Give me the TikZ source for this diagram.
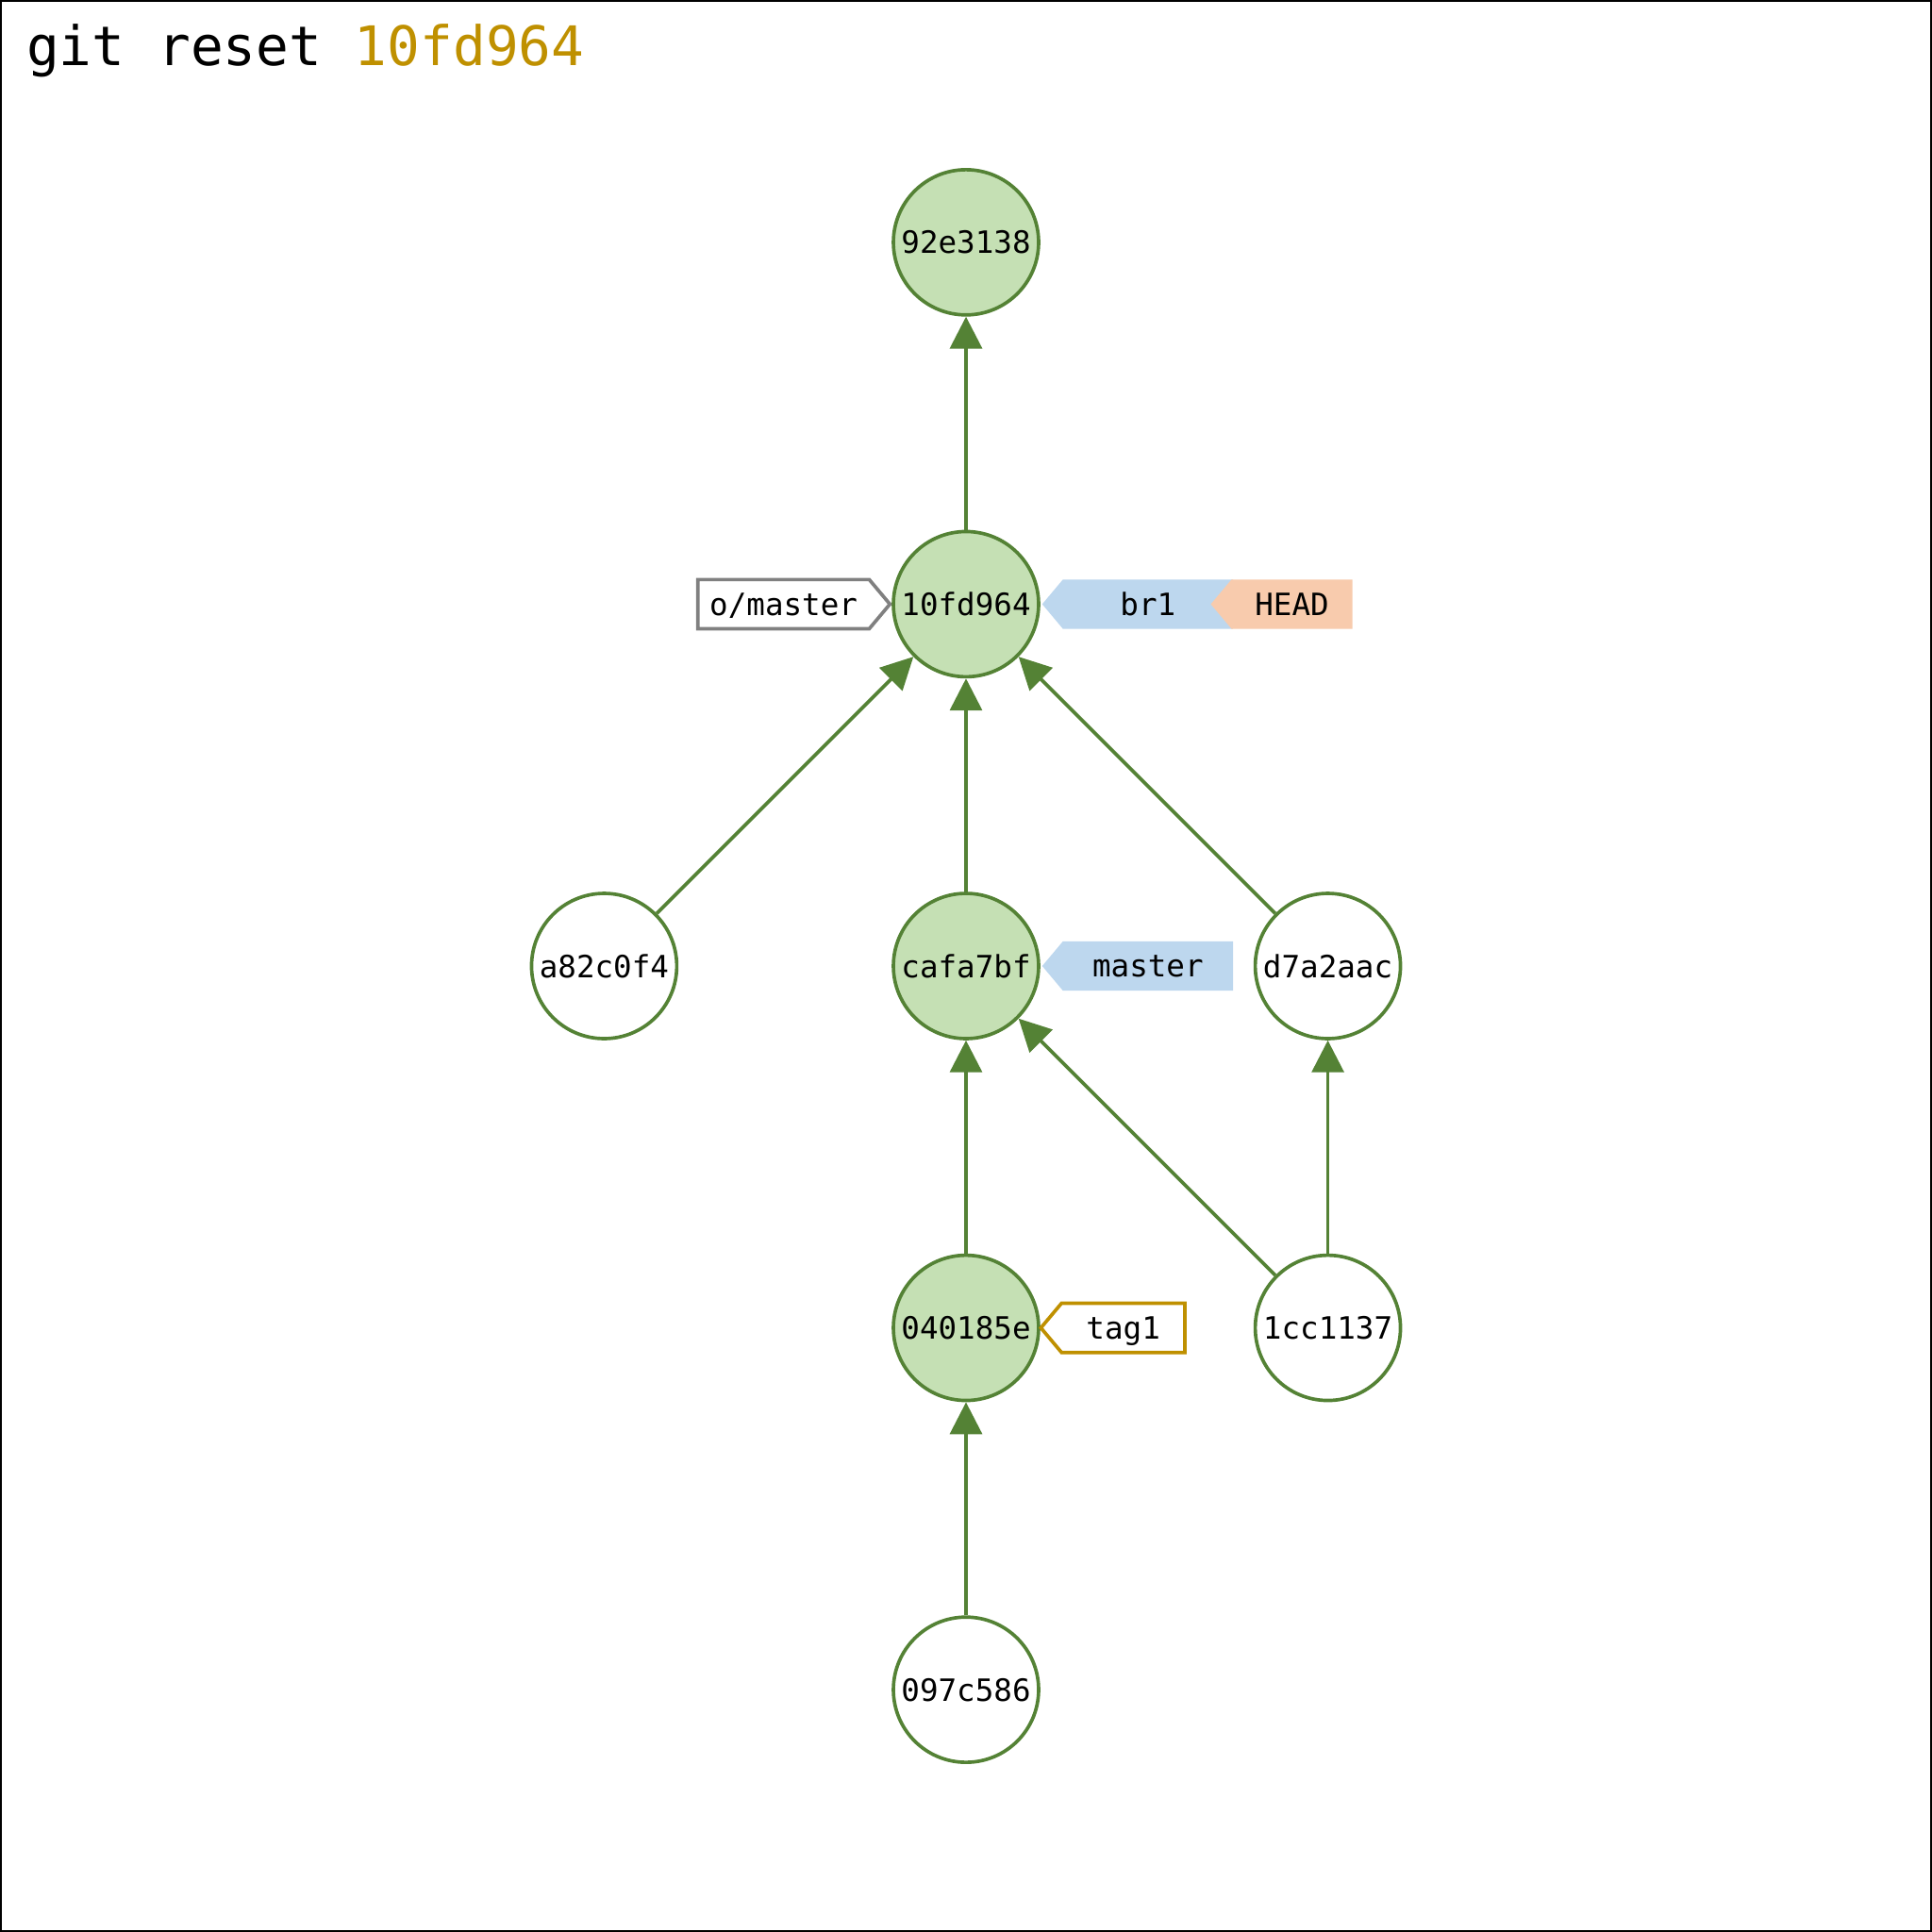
\documentclass[tikz,border=0pt]{standalone}
\usepackage{fontspec}
\setmonofont{DejaVu Sans Mono}
\usetikzlibrary{shapes.symbols,arrows.meta}
\definecolor{commitgreen}{RGB}{84,130,53}
\definecolor{commitfill}{RGB}{197,224,180}
\definecolor{branchblue}{RGB}{189,215,238}
\definecolor{headpeach}{RGB}{248,203,173}
\definecolor{taggold}{RGB}{191,144,0}
\tikzset{
  commit/.style = {circle, draw=commitgreen, line width=0.8pt, minimum size=1.18cm,
    inner sep=0pt, font=\ttfamily\fontsize{7.1}{8}\selectfont},
  reached/.style = {commit, fill=commitfill},
  parent/.style = {draw=commitgreen, line width=0.8pt, -{Triangle[length=0.26cm,width=0.26cm]}},
  reflabel/.style = {signal, signal pointer angle=100, minimum height=0.4cm, inner sep=0pt,
    text height=1.6ex, text depth=0.4ex, font=\ttfamily\fontsize{7.1}{8}\selectfont},
}
\begin{document}
\begin{tikzpicture}
  \draw[line width=0.5pt] (0,0) rectangle (15.68,-15.68);
  \node[anchor=west, inner sep=0pt, font=\ttfamily\fontsize{12.6}{14}\selectfont] (title) at (0.2,-0.4)
    {git reset \textcolor{taggold}{10fd964}};
  % commits
  \node[reached] (c92e) at (7.84,-1.96) {92e3138};
  \node[reached] (c10f) at (7.84,-4.90) {10fd964};
  \node[commit]  (ca82) at (4.90,-7.84) {a82c0f4};
  \node[reached] (ccaf) at (7.84,-7.84) {cafa7bf};
  \node[commit]  (cd7a) at (10.78,-7.84) {d7a2aac};
  \node[reached] (c040) at (7.84,-10.78) {040185e};
  \node[commit]  (c1cc) at (10.78,-10.78) {1cc1137};
  \node[commit]  (c097) at (7.84,-13.72) {097c586};
  % parents
  \draw[parent] (c10f) -- (c92e);
  \draw[parent] (ca82) -- (c10f);
  \draw[parent] (ccaf) -- (c10f);
  \draw[parent] (cd7a) -- (c10f);
  \draw[parent] (c040) -- (ccaf);
  \draw[parent] (c1cc) -- (ccaf);
  \draw[parent] (c1cc) -- (cd7a);
  \draw[parent] (c097) -- (c040);
  % refs
  \node[reflabel, signal to=east, draw=gray, line width=0.8pt, minimum width=1.56cm, anchor=east]
    (omaster) at (7.24,-4.90) {o/master};
  \node[reflabel, signal to=west, fill=branchblue, minimum width=1.55cm, anchor=west]
    (br1) at (8.45,-4.90) {br1};
  \node[reflabel, signal to=west, fill=headpeach, minimum width=1.15cm, anchor=west]
    (head) at (9.82,-4.90) {HEAD};
  \node[reflabel, signal to=west, fill=branchblue, minimum width=1.55cm, anchor=west]
    (master) at (8.45,-7.84) {master};
  \node[reflabel, signal to=west, draw=taggold, line width=0.8pt, minimum width=1.17cm, anchor=west]
    (tag1) at (8.43,-10.78) {tag1};
\end{tikzpicture}
\end{document}
